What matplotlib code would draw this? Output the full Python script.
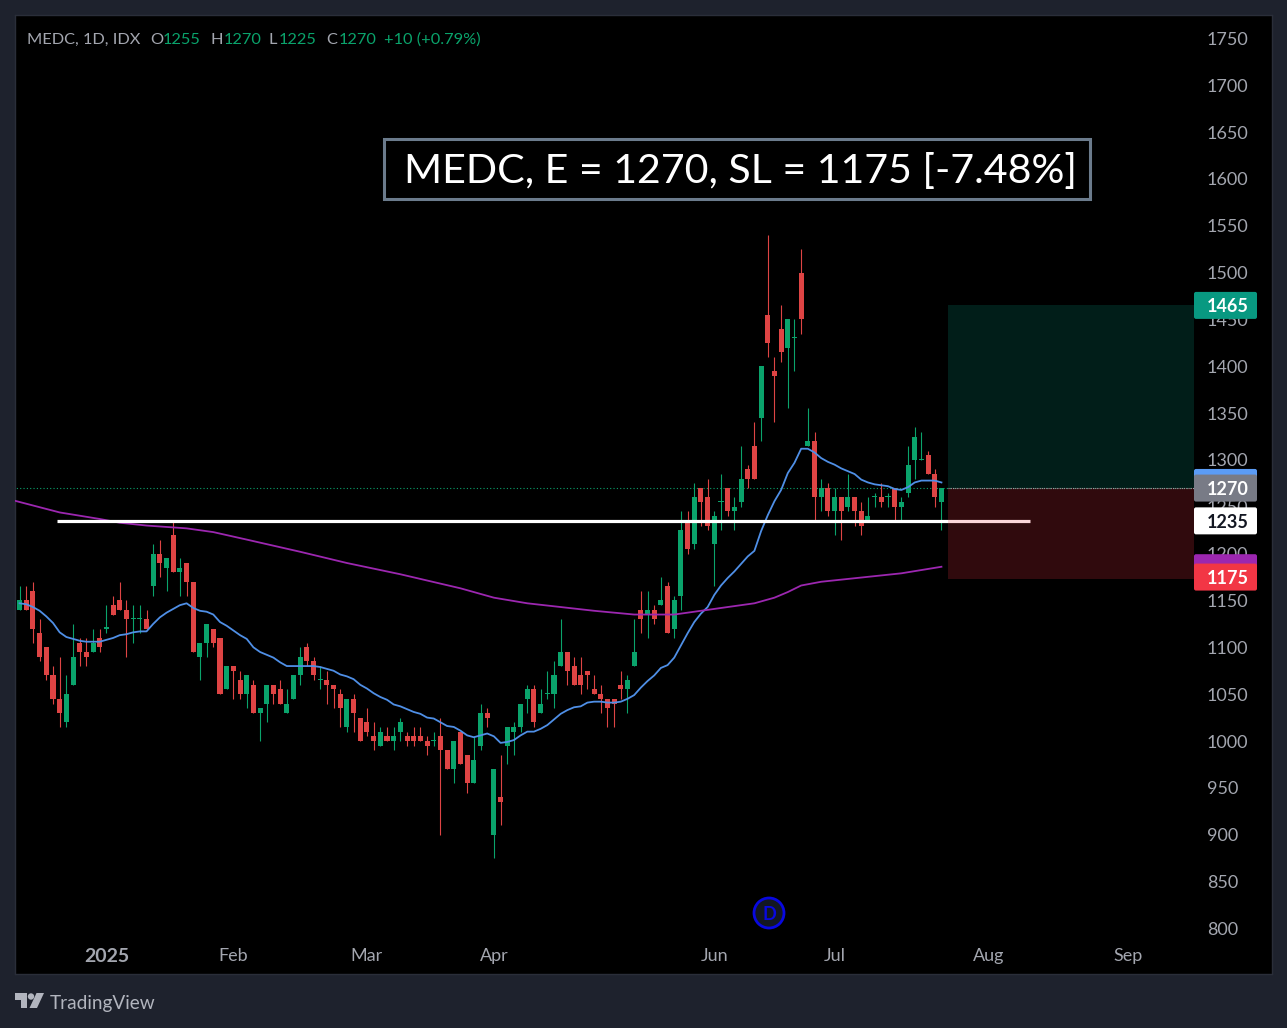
import matplotlib
matplotlib.use('Agg')
import matplotlib.pyplot as plt
import numpy as np
from matplotlib.patches import Rectangle, FancyBboxPatch, Polygon, Circle
from matplotlib.transforms import Affine2D

W, H = 1287, 1028

# daily candles
opens = [1140,1150,1160,1115,1100,1070,1045,1020,1060,1105,1095,1095,1110,1120,1145,1150,1140,1130,1130,1130,
         1165,1200,1185,1220,1180,1190,1170,1090,1105,1120,1110,1055,1080,1065,1050,1060,1030,1040,1060,1055,
         1030,1045,1070,1100,1085,1065,1065,1060,1050,1015,1045,1025,1020,1005,995,1005,1000,1010,1005,1005,
         1005,1000,1000,1005,990,970,1010,985,955,995,1030,900,940,995,1010,1015,1045,1055,1030,1050,
         1050,1080,1095,1080,1070,1075,1055,1050,1045,1045,1060,1055,1080,1140,1135,1140,1145,1165,1120,1155,
         1235,1210,1270,1260,1210,1255,1270,1245,1255,1290,1315,1345,1455,1395,1440,1420,1430,1500,1315,1320,
         1260,1270,1245,1260,1250,1260,1245,1235,1260,1260,1260,1270,1250,1265,1300,1300,1305,1285,1255]
highs = [1165,1165,1170,1130,1100,1080,1090,1070,1125,1110,1110,1120,1120,1145,1155,1170,1150,1145,1145,1140,
         1210,1215,1195,1235,1195,1190,1170,1105,1125,1120,1110,1080,1080,1075,1070,1065,1035,1060,1060,1065,
         1055,1070,1100,1105,1090,1080,1075,1060,1055,1045,1050,1025,1035,1020,1015,1015,1015,1025,1010,1015,
         1015,1005,1010,1025,990,1000,1010,985,1005,1040,1035,970,985,1015,1020,1040,1060,1060,1055,1075,
         1085,1130,1095,1090,1090,1075,1070,1060,1045,1045,1075,1070,1130,1160,1160,1145,1175,1170,1155,1245,
         1245,1275,1270,1280,1245,1285,1270,1260,1315,1295,1340,1400,1540,1410,1465,1450,1450,1525,1355,1330,
         1280,1275,1270,1260,1285,1260,1255,1260,1265,1275,1265,1270,1260,1315,1335,1330,1310,1290,1270]
lows = [1140,1140,1105,1085,1065,1040,1015,1015,1060,1080,1080,1095,1095,1115,1135,1140,1090,1105,1115,1120,
        1155,1175,1160,1180,1155,1155,1095,1065,1090,1100,1050,1055,1045,1045,1035,1030,1000,1020,1040,1040,
        1030,1045,1060,1080,1065,1055,1040,1035,1015,1010,1010,1000,1005,990,995,1000,990,1000,995,995,
        1000,985,995,900,970,955,975,945,955,990,1015,875,910,975,985,1010,1030,1015,1030,1045,
        1035,1080,1060,1060,1050,1055,1050,1030,1015,1015,1045,1030,1080,1115,1110,1125,1145,1115,1110,1140,
        1200,1205,1230,1225,1165,1225,1240,1225,1250,1270,1280,1320,1410,1340,1405,1355,1395,1435,1315,1235,
        1245,1240,1220,1215,1245,1230,1220,1235,1250,1250,1250,1235,1235,1260,1280,1300,1285,1250,1225]
closes = [1150,1140,1120,1090,1070,1045,1030,1050,1090,1095,1090,1105,1100,1120,1135,1140,1130,1130,1130,1120,
          1200,1190,1195,1180,1185,1170,1095,1105,1125,1105,1050,1080,1075,1050,1070,1030,1035,1060,1050,1040,
          1040,1070,1090,1085,1070,1065,1060,1055,1035,1045,1030,1000,1010,1000,1010,1000,1005,1020,1000,1000,
          1000,995,1000,990,970,1000,975,955,980,1030,1025,970,935,1015,1015,1040,1055,1020,1040,1050,
          1070,1095,1075,1060,1060,1070,1050,1045,1035,1040,1055,1065,1095,1130,1140,1130,1150,1115,1150,1225,
          1205,1260,1255,1230,1240,1255,1245,1250,1280,1280,1280,1400,1425,1390,1415,1450,1430,1450,1320,1260,
          1270,1245,1260,1245,1260,1245,1230,1240,1260,1255,1260,1250,1255,1295,1325,1300,1285,1260,1270]

blue_ma = [1147,1146,1143,1139,1133,1126,1116,1111,1109,1107,1106,1106,1106,1108,1110,1113,1114,1116,1117,1117,
           1125,1132,1137,1141,1145,1147,1142,1139,1138,1135,1127,1123,1118,1113,1109,1100,1095,1092,1089,1084,
           1080,1080,1080,1080,1080,1079,1077,1075,1071,1069,1066,1060,1056,1051,1047,1044,1039,1037,1034,1031,
           1029,1025,1024,1020,1016,1015,1011,1006,1004,1006,1008,1005,998,999,1001,1006,1010,1010,1013,1017,
           1023,1029,1033,1036,1037,1041,1042,1042,1041,1041,1042,1045,1049,1057,1064,1070,1078,1081,1089,1102,
           1115,1127,1136,1143,1156,1166,1174,1181,1189,1197,1203,1224,1241,1256,1268,1286,1297,1312,1312,1308,
           1302,1298,1295,1291,1288,1285,1279,1276,1274,1273,1272,1269,1268,1271,1276,1278,1278,1278,1276]

purple_idx = [-1,6,12,15,19,25,29,34,42,49,57,66,71,76,81,86,89,92,98,100,103,110,113,115,117,120,124,132,138]
purple_ma = [1257,1244,1237,1233,1230,1227,1223,1215,1202,1190,1178,1163,1153,1147,1143,1139,1137,1135,1135,1137,
             1140,1147,1153,1159,1166,1170,1173,1179,1186]

price_ticks = list(range(800, 1751, 50))
month_labels = ['2025', 'Feb', 'Mar', 'Apr', 'Jun', 'Jul', 'Aug', 'Sep']
month_idx = [13, 32, 52, 71, 104, 122, 145, 166]

entry = 1270
target = 1465
stop_box = 1173
support = 1235

tag_prices = [1465, 1276, 1185, 1270, 1235, 1175]
tag_texts = ['1465', '', '', '1270', '1235', '1175']
tag_colors = ['#089981', '#5b9cf6', '#9c27b0', '#787b86', '#ffffff', '#f23645']
tag_textcolors = ['#ffffff', '#ffffff', '#ffffff', '#ffffff', '#131722', '#ffffff']

UP = '#0aa36b'
DOWN = '#de4444'
GREY = '#a3a6af'
FONT = 'Lato'

fig = plt.figure(figsize=(W / 100, H / 100), dpi=100, facecolor='#1e222d')
ax = fig.add_axes([15 / W, 1 - 974 / H, (1272 - 15) / W, (974 - 15) / H], facecolor='#000000')
step = 6.68
ax.set_xlim((15 - 19.6) / step, (1272 - 19.6) / step)
ax.set_ylim(1000 + (741 - 974) * 1.0675, 1000 + (741 - 15) * 1.0675)
ax.set_xticks([])
ax.set_yticks([])
for s in ax.spines.values():
    s.set_color('#2a2e39')
    s.set_linewidth(1)

# pixel space, for the chrome around the plot
px = Affine2D().scale(1, -1).translate(0, H)

x = np.arange(len(opens))
o = np.array(opens)
c = np.array(closes)
colors = [UP if cc >= oo else DOWN for oo, cc in zip(o, c)]
ax.vlines(x, lows, highs, colors=colors, linewidth=0.8, zorder=2)
ax.bar(x, np.maximum(np.abs(c - o), 1.2), bottom=np.minimum(o, c), width=0.76, color=colors, linewidth=0, zorder=3)

ax.plot(x, blue_ma, color='#4f8fe6', lw=1.3, zorder=4)
ax.plot(purple_idx, purple_ma, color='#9c27b0', lw=1.3, zorder=4)

box_l = 139.0
box_r = 175.85
ax.plot([-1, box_r], [entry, entry], color=UP, lw=0.8, ls=(0, (1, 2)), zorder=1)
ax.plot([5.65, 151.3], [support, support], color='#ffffff', lw=2.3, zorder=5, solid_capstyle='butt')
ax.add_patch(Rectangle((box_l, entry), box_r - box_l, target - entry, color='#089981', alpha=0.2, lw=0, zorder=6))
ax.add_patch(Rectangle((box_l, stop_box), box_r - box_l, entry - stop_box, color='#f23645', alpha=0.2, lw=0, zorder=6))
ax.plot([box_l, box_r], [entry, entry], color='#9a9da6', lw=0.8, ls=(0, (1, 1)), zorder=6)

# price scale
for p in price_ticks:
    ax.text(1207, ax.transData.transform((0, p))[1] - 1.5, str(p), transform=Affine2D(), color=GREY, fontsize=13,
            family=FONT, ha='left', va='center', zorder=7, clip_on=True)

for i, m in zip(month_idx, month_labels):
    ax.text(i, 0.0183, m, transform=ax.get_xaxis_transform(), color=GREY, fontsize=14 if m == '2025' else 13,
            family=FONT, ha='center', va='center', fontweight='bold' if m == '2025' else 'normal', zorder=7)

# tags on the price scale
for p, t, col, tc in zip(tag_prices, tag_texts, tag_colors, tag_textcolors):
    yc = ax.transData.transform((0, p))[1]
    fig.add_artist(FancyBboxPatch((1194, yc - 13.5), 63, 27, boxstyle='round,pad=0,rounding_size=2',
                                  transform=Affine2D(), facecolor=col, edgecolor='none', zorder=8))
    if t:
        fig.text(1207, yc - 1.5, t, transform=Affine2D(), color=tc, fontsize=13, family=FONT, fontweight='bold',
                 ha='left', va='center', zorder=9)

# title box
fig.add_artist(Rectangle((384, 139), 706, 60, transform=px, facecolor='#000000', edgecolor='#6b7b8c', lw=2.2, zorder=8))
fig.text(404, 171.5, 'MEDC, E = 1270, SL = 1175 [-7.48%]', transform=px, color='#ffffff', fontsize=29.6, family=FONT,
         ha='left', va='center', zorder=9)

# legend row
legend_parts = [(27, 'MEDC, 1D, IDX', GREY), (150, 'O', GREY), (163, '1255', UP), (211, 'H', GREY), (224, '1270', UP),
                (269, 'L', GREY), (279, '1225', UP), (326, 'C', GREY), (339, '1270', UP), (384, '+10 (+0.79%)', UP)]
for lx, t, col in legend_parts:
    fig.text(lx, 39.5, t, transform=px, color=col, fontsize=11.8, family=FONT, ha='left', va='center', zorder=9)

# dividends marker
fig.add_artist(Circle((769, 913), 15, transform=px, facecolor='#131722', edgecolor='#0808e0', lw=2, zorder=8))
fig.text(769, 914, 'D', transform=px, color='#0808e0', fontsize=13, family=FONT, fontweight='bold',
         ha='center', va='center', zorder=9)

# footer logo
logo = '#b2b5be'
fig.add_artist(Polygon([(15, 993), (27, 993), (27, 1008), (20.5, 1008), (20.5, 999.5), (15, 999.5)], transform=px,
                       facecolor=logo, edgecolor='none'))
fig.add_artist(Circle((31, 996.5), 3.2, transform=px, facecolor=logo, edgecolor='none'))
fig.add_artist(Polygon([(36.5, 993), (44, 993), (37, 1008), (29.5, 1008)], transform=px, facecolor=logo, edgecolor='none'))
fig.text(50, 1003.5, 'TradingView', transform=px, color=logo, fontsize=13.7, family=FONT, ha='left', va='center')

fig.savefig('out.png', dpi=100, facecolor=fig.get_facecolor())
